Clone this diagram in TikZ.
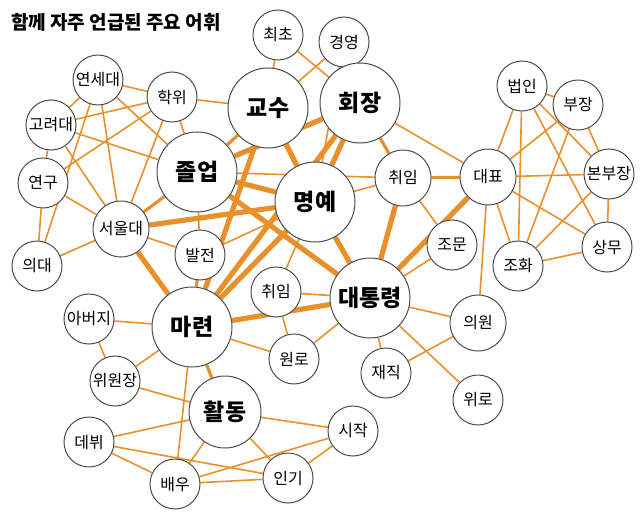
\documentclass[tikz,border=0pt]{standalone}
\usepackage{fontspec}
\setmainfont{Noto Sans CJK KR}
\usetikzlibrary{backgrounds}
\begin{document}
\begin{tikzpicture}[x=0.5pt,y=-0.5pt,
 n/.style={circle,draw=black!70,line width=0.5pt,fill=white,inner sep=0pt,font=\fontsize{8}{9}\selectfont},
 s/.style={n,minimum size=25pt},
 m/.style={n,minimum size=28pt},
 b/.style={n,minimum size=40pt,font=\fontsize{11.5}{12}\selectfont\bfseries},
 e/.style={draw={rgb,255:red,232;green,145;blue,42},line width=0.8pt},
 t/.style={e,line width=2.6pt},
 h/.style={e,line width=1.6pt}]
\useasboundingbox (0,0) rectangle (640,513);
\node[anchor=west,font=\fontsize{9.5}{10}\selectfont\bfseries] (title) at (4,22) {함께 자주 언급된 주요 어휘};
\node[s] (choe) at (278,35) {최초};
\node[s] (gy) at (344,42) {경영};
\node[b] (gs) at (268,108) {교수};
\node[b] (hj) at (360,103) {회장};
\node[s] (ys) at (98,80) {연세대};
\node[s] (hw) at (172,97) {학위};
\node[s] (gr) at (51,125) {고려대};
\node[b] (jo) at (197,172) {졸업};
\node[b] (my) at (315,202) {명예};
\node[m] (c1) at (403,178) {취임};
\node[m] (dp) at (488,177) {대표};
\node[s] (bi) at (522,86) {법인};
\node[s] (bj) at (578,105) {부장};
\node[s] (bbj) at (609,174) {본부장};
\node[s] (sm) at (607,247) {상무};
\node[s] (jh) at (518,266) {조화};
\node[s] (jm) at (452,245) {조문};
\node[s] (yg) at (43,183) {연구};
\node[m] (sd) at (121,229) {서울대};
\node[s] (bjn) at (200,255) {발전};
\node[s] (ud) at (37,266) {의대};
\node[s] (c2) at (276,292) {취임};
\node[b] (dt) at (370,298) {대통령};
\node[b] (mr) at (192,327) {마련};
\node[s] (ab) at (89,319) {아버지};
\node[s] (wr) at (294,359) {원로};
\node[m] (uw) at (478,323) {의원};
\node[s] (jj) at (386,373) {재직};
\node[s] (wro) at (478,400) {위로};
\node[s] (wwj) at (115,381) {위원장};
\node[n,minimum size=36pt,font=\fontsize{11.5}{12}\selectfont\bfseries] (hd) at (225,412) {활동};
\node[s] (sj) at (353,431) {시작};
\node[s] (db) at (89,442) {데뷔};
\node[s] (bu) at (175,484) {배우};
\node[s] (ig) at (288,478) {인기};
\begin{scope}[on background layer]
\foreach \a/\b in {choe/gs,choe/hj,gy/gs,gy/my,gs/hw,hj/dp,jo/hw,jo/ys,jo/gr,jo/c1,jo/bjn,
 sd/bjn,sd/ys,sd/gr,sd/hw,sd/yg,sd/ud,ys/hw,ys/gr,ys/ud,gr/yg,gr/hw,yg/hw,yg/ud,
 bjn/my,my/c1,my/c2,c1/jm,jm/dt,dp/bi,dp/bj,dp/bbj,dp/jh,dp/sm,dp/uw,
 bi/bj,bi/jh,bi/bbj,bi/sm,bj/bbj,bj/jh,bbj/jh,bbj/sm,jh/sm,
 dt/c2,dt/wr,dt/jj,dt/uw,dt/wro,c2/wr,uw/jj,
 mr/ab,mr/wwj,mr/wr,mr/bu,ab/wwj,wwj/hd,hd/db,hd/sj,hd/bu,hd/ig,db/bu,db/ig,bu/sj,bu/ig,sj/ig}
 \draw[e] (\a) -- (\b);
\foreach \a/\b in {gs/jo,c1/dp,sd/jo,bjn/mr,hd/mr,hj/c1}
 \draw[h] (\a) -- (\b);
\foreach \a/\b in {gs/my,gs/mr,hj/jo,hj/my,hj/mr,jo/my,jo/dt,sd/my,sd/mr,my/dt,my/mr,c1/dt,dp/dt,dt/mr}
 \draw[t] (\a) -- (\b);
\end{scope}
\end{tikzpicture}
\end{document}
